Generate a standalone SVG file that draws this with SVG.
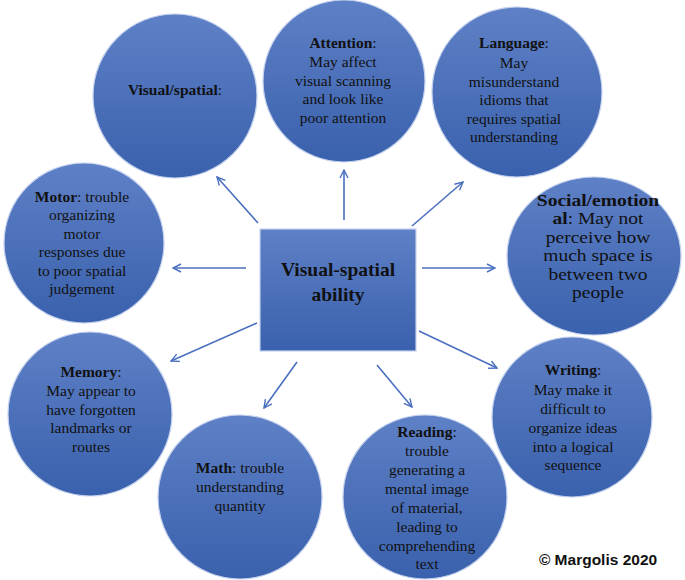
<svg xmlns="http://www.w3.org/2000/svg" width="685" height="580" viewBox="0 0 685 580">
<defs>
<linearGradient id="g" x1="0" y1="0" x2="0" y2="1">
<stop offset="0" stop-color="#5e80c6"/>
<stop offset="1" stop-color="#3a61ad"/>
</linearGradient>
<marker id="ah" viewBox="0 0 10 10" refX="9" refY="5" markerWidth="10" markerHeight="10" markerUnits="userSpaceOnUse" orient="auto">
<path d="M1,1 L9,5 L1,9" fill="none" stroke="#4a70bf" stroke-width="1.4"/>
</marker>
</defs>
<style>
.n{fill:url(#g);stroke:#c5d2ee;stroke-width:1.2}
.t{font-family:"Liberation Serif","Times New Roman","DejaVu Serif",serif;font-size:15.5px;fill:#111;text-anchor:middle}
.b{font-weight:bold}
.c{stroke:#4a70bf;stroke-width:1.6;fill:none;marker-end:url(#ah)}
</style>
<rect width="685" height="580" fill="#fff"/>
<g id="connectors">
<line class="c" x1="258" y1="223" x2="217" y2="177"/>
<line class="c" x1="344" y1="220" x2="344" y2="170"/>
<line class="c" x1="412" y1="226" x2="463" y2="182"/>
<line class="c" x1="246" y1="268" x2="173" y2="268"/>
<line class="c" x1="422" y1="268" x2="495" y2="268"/>
<line class="c" x1="257" y1="323" x2="171" y2="361"/>
<line class="c" x1="297" y1="362" x2="264" y2="408"/>
<line class="c" x1="377" y1="365" x2="412" y2="407"/>
<line class="c" x1="419" y1="331" x2="497" y2="368"/>
</g>
<g id="center">
<rect class="n" x="260" y="229" width="156" height="122"/>
<text class="t b" style="font-size:19.5px" x="338" y="276">Visual-spatial</text>
<text class="t b" style="font-size:19.5px" x="338" y="301">ability</text>
</g>
<g id="visual">
<circle class="n" cx="175" cy="96" r="82"/>
<text class="t" x="175" y="95"><tspan class="b">Visual/spatial</tspan>:</text>
</g>
<g id="attention">
<circle class="n" cx="344" cy="81" r="81"/>
<text class="t" x="343" y="48"><tspan class="b">Attention</tspan>:</text>
<text class="t" x="343" y="67">May affect</text>
<text class="t" x="343" y="86">visual scanning</text>
<text class="t" x="343" y="104">and look like</text>
<text class="t" x="343" y="123">poor attention</text>
</g>
<g id="language">
<circle class="n" cx="517" cy="92" r="85"/>
<text class="t" x="514" y="48"><tspan class="b">Language</tspan>:</text>
<text class="t" x="514" y="68">May</text>
<text class="t" x="514" y="87">misunderstand</text>
<text class="t" x="514" y="105">idioms that</text>
<text class="t" x="514" y="124">requires spatial</text>
<text class="t" x="514" y="142">understanding</text>
</g>
<g id="social">
<ellipse class="n" cx="594" cy="256" rx="87" ry="79"/>
<g transform="translate(598,0) scale(1.22,1) translate(-598,0)">
<text class="t" style="font-size:16px" x="598" y="206"><tspan class="b">Social/emotion</tspan></text>
<text class="t" style="font-size:16px" x="598" y="224"><tspan class="b">al</tspan>: May not</text>
<text class="t" style="font-size:16px" x="598" y="243">perceive how</text>
<text class="t" style="font-size:16px" x="598" y="261">much space is</text>
<text class="t" style="font-size:16px" x="598" y="280">between two</text>
<text class="t" style="font-size:16px" x="598" y="298">people</text>
</g>
</g>
<g id="motor">
<circle class="n" cx="84" cy="243" r="80"/>
<text class="t" x="82" y="202"><tspan class="b">Motor</tspan>: trouble</text>
<text class="t" x="82" y="220">organizing</text>
<text class="t" x="82" y="239">motor</text>
<text class="t" x="82" y="257">responses due</text>
<text class="t" x="82" y="276">to poor spatial</text>
<text class="t" x="82" y="294">judgement</text>
</g>
<g id="memory">
<circle class="n" cx="90" cy="414" r="82"/>
<text class="t" x="91" y="377"><tspan class="b">Memory</tspan>:</text>
<text class="t" x="91" y="396">May appear to</text>
<text class="t" x="91" y="415">have forgotten</text>
<text class="t" x="91" y="433">landmarks or</text>
<text class="t" x="91" y="452">routes</text>
</g>
<g id="math">
<circle class="n" cx="240" cy="497" r="82"/>
<text class="t" x="240" y="473"><tspan class="b">Math</tspan>: trouble</text>
<text class="t" x="240" y="492">understanding</text>
<text class="t" x="240" y="511">quantity</text>
</g>
<g id="reading">
<circle class="n" cx="425" cy="497" r="82"/>
<text class="t" x="427" y="437"><tspan class="b">Reading</tspan>:</text>
<text class="t" x="427" y="456">trouble</text>
<text class="t" x="427" y="475">generating a</text>
<text class="t" x="427" y="494">mental image</text>
<text class="t" x="427" y="513">of material,</text>
<text class="t" x="427" y="532">leading to</text>
<text class="t" x="427" y="551">comprehending</text>
<text class="t" x="427" y="569">text</text>
</g>
<g id="writing">
<circle class="n" cx="572" cy="417" r="80"/>
<text class="t" x="573" y="375"><tspan class="b">Writing</tspan>:</text>
<text class="t" x="573" y="395">May make it</text>
<text class="t" x="573" y="414">difficult to</text>
<text class="t" x="573" y="433">organize ideas</text>
<text class="t" x="573" y="452">into a logical</text>
<text class="t" x="573" y="470">sequence</text>
</g>
<text x="598" y="565" style="font-family:'Liberation Sans',Arial,sans-serif;font-size:15.5px;font-weight:bold;fill:#111;text-anchor:middle">© Margolis 2020</text>
</svg>
